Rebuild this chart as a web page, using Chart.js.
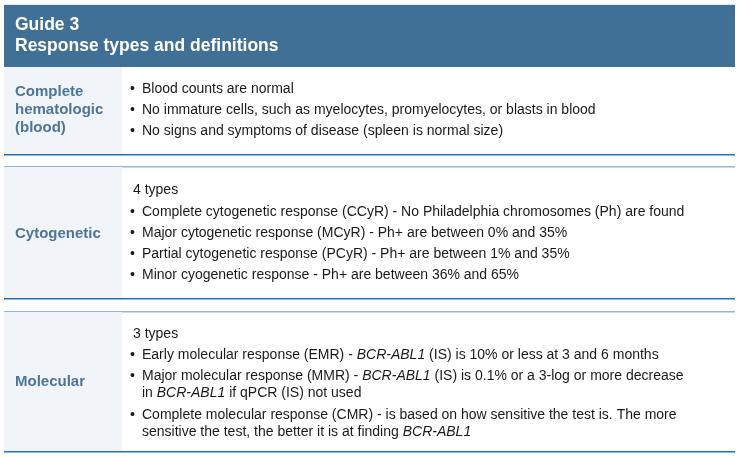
<!DOCTYPE html>
<html><head><meta charset="utf-8">
<script src="https://cdn.jsdelivr.net/npm/chart.js@4"></script>
<style>html,body{margin:0;padding:0;background:#fff}#wrap{width:743px;height:457px}</style>
</head><body><div id="wrap"><canvas id="c"></canvas></div>
<script>
const titleLines = ["Guide 3", "Response types and definitions"];
const categories = ["Complete\nhematologic\n(blood)", "Cytogenetic", "Molecular"];
// each item: [isBullet, text]; segments wrapped in *...* are italic; "|" marks a line break
const row1 = [[1,"Blood counts are normal"],[1,"No immature cells, such as myelocytes, promyelocytes, or blasts in blood"],[1,"No signs and symptoms of disease (spleen is normal size)"]];
const row2 = [[0,"4 types"],[1,"Complete cytogenetic response (CCyR) - No Philadelphia chromosomes (Ph) are found"],[1,"Major cytogenetic response (MCyR) - Ph+ are between 0% and 35%"],[1,"Partial cytogenetic response (PCyR) - Ph+ are between 1% and 35%"],[1,"Minor cyogenetic response - Ph+ are between 36% and 65%"]];
const row3 = [[0,"3 types"],[1,"Early molecular response (EMR) - *BCR-ABL1* (IS) is 10% or less at 3 and 6 months"],[1,"Major molecular response (MMR) - *BCR-ABL1* (IS) is 0.1% or a 3-log or more decrease|in *BCR-ABL1* if qPCR (IS) not used"],[1,"Complete molecular response (CMR) - is based on how sensitive the test is. The more|sensitive the test, the better it is at finding *BCR-ABL1*"]];
const rows = [row1, row2, row3];

const layout = [
  {top:67, bottom:154, lineY:[89,110,131], labelY:[92,110,128], gapTo:167},
  {top:167, bottom:298, lineY:[190,212,233,254,275], labelY:[234], gapTo:312},
  {top:312, bottom:451, lineY:[334,355,[376,393],[415,432]], labelY:[382]}
];
const F = "Liberation Sans, Arial, sans-serif";

function drawRich(ctx, s, x, y){
  const parts = s.split("*");
  parts.forEach((p,i)=>{
    ctx.font = (i%2 ? "italic " : "") + "14px " + F;
    ctx.fillText(p, x, y);
    x += ctx.measureText(p).width;
  });
}

const tablePlugin = {
  id:'table',
  afterDraw(chart){
    const ctx = chart.ctx;
    ctx.save();
    ctx.fillStyle="#fff"; ctx.fillRect(0,0,743,457);
    ctx.fillStyle="#e3e6ea"; ctx.fillRect(4,4,732,1);
    ctx.fillStyle="#417096"; ctx.fillRect(4,5,731,62);
    ctx.fillStyle="#fff"; ctx.font="bold 17.5px "+F; ctx.textBaseline="middle";
    ctx.fillText(titleLines[0],15,25); ctx.fillText(titleLines[1],15,46);
    rows.forEach((items,r)=>{
      const L = layout[r];
      ctx.fillStyle="#f1f4f8"; ctx.fillRect(4,L.top,118,L.bottom-L.top);
      ctx.fillStyle="#1f74bb"; ctx.fillRect(4,L.bottom,731,1.5);
      if(L.gapTo){ ctx.fillStyle="#8fb8dc"; ctx.fillRect(4,L.gapTo-1,731,1.5); }
      ctx.fillStyle="#4f7599"; ctx.font="bold 15px "+F;
      categories[r].split("\n").forEach((t,i)=>ctx.fillText(t,15,L.labelY[i]));
      ctx.fillStyle="#1a1a1a";
      items.forEach((it,i)=>{
        const ys = Array.isArray(L.lineY[i]) ? L.lineY[i] : [L.lineY[i]];
        const lines = it[1].split("|");
        if(it[0]){ ctx.font="14px "+F; ctx.fillText("•",130,ys[0]); }
        lines.forEach((ln,k)=>drawRich(ctx, ln, it[0]?142:133, ys[k]));
      });
    });
    ctx.restore();
  }
};

new Chart(document.getElementById('c'),{
  type:'bar',
  data:{labels:categories.map(c=>c.replace(/\n/g,' ')),datasets:[{data:[],backgroundColor:'transparent'}]},
  options:{responsive:true,maintainAspectRatio:false,animation:false,events:[],
    plugins:{legend:{display:false},tooltip:{enabled:false}},
    scales:{x:{display:false},y:{display:false}}},
  plugins:[tablePlugin]
});
</script></body></html>
